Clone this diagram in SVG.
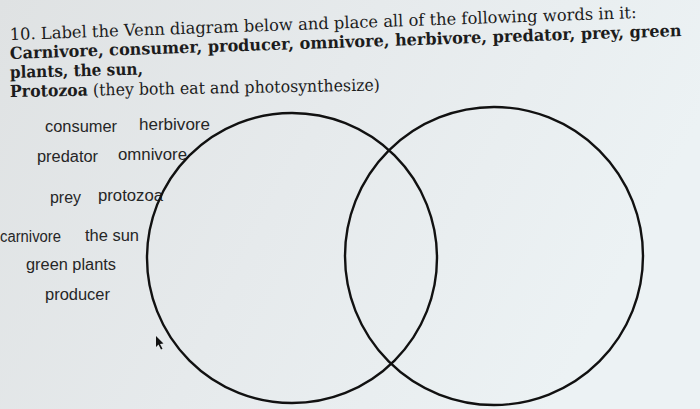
<svg xmlns="http://www.w3.org/2000/svg" width="700" height="409" viewBox="0 0 700 409">
<defs>
<linearGradient id="bg" x1="0" y1="0" x2="1" y2="0.3">
<stop offset="0" stop-color="#dfe2e3"/>
<stop offset="0.5" stop-color="#e6eaec"/>
<stop offset="1" stop-color="#ecf2f4"/>
</linearGradient>
<style>
.q{font-family:"DejaVu Serif","Liberation Serif",serif;font-size:16.5px;fill:#1c1c1c}
.b{font-weight:bold}
.w{font-family:"Liberation Sans",Arial,sans-serif;font-size:16px;fill:#262626}
.c{fill:none;stroke:#111;stroke-width:2.4}
</style>
</defs>
<rect width="700" height="409" fill="url(#bg)"/>
<g id="question">
<text class="q" x="10" y="40" transform="rotate(-2 10 40)" textLength="627" lengthAdjust="spacingAndGlyphs">10. Label the Venn diagram below and place all of the following words in it:</text>
<text class="q b" x="10" y="59" transform="rotate(-1.96 10 59)" textLength="672" lengthAdjust="spacingAndGlyphs">Carnivore, consumer, producer, omnivore, herbivore, predator, prey, green</text>
<text class="q b" x="10" y="78" transform="rotate(-1.5 10 78)" textLength="133" lengthAdjust="spacingAndGlyphs">plants, the sun,</text>
<text class="q" x="10" y="97" transform="rotate(-1 10 97)" textLength="370" lengthAdjust="spacingAndGlyphs"><tspan class="b">Protozoa</tspan> (they both eat and photosynthesize)</text>
</g>
<g id="words">
<text class="w" x="45" y="132" textLength="72" lengthAdjust="spacingAndGlyphs">consumer</text>
<text class="w" x="139" y="130" textLength="71" lengthAdjust="spacingAndGlyphs">herbivore</text>
<text class="w" x="37" y="162" textLength="61" lengthAdjust="spacingAndGlyphs">predator</text>
<text class="w" x="118" y="160" textLength="69" lengthAdjust="spacingAndGlyphs">omnivore</text>
<text class="w" x="50" y="203" textLength="31" lengthAdjust="spacingAndGlyphs">prey</text>
<text class="w" x="98" y="201" textLength="65" lengthAdjust="spacingAndGlyphs">protozoa</text>
<text class="w" x="0" y="242" textLength="61" lengthAdjust="spacingAndGlyphs">carnivore</text>
<text class="w" x="85" y="241" textLength="54" lengthAdjust="spacingAndGlyphs">the sun</text>
<text class="w" x="26" y="270" textLength="90" lengthAdjust="spacingAndGlyphs">green plants</text>
<text class="w" x="45" y="300" textLength="65" lengthAdjust="spacingAndGlyphs">producer</text>
</g>
<g id="set-left"><circle class="c" cx="292" cy="258" r="145"/></g>
<g id="set-right"><circle class="c" cx="494" cy="256" r="149"/></g>
<g id="cursor"><path d="M156 336 L156 347 L158.5 344.5 L161 349.5 L162.5 348.8 L160 344 L163.5 343.5 Z" fill="#111"/></g>
</svg>
